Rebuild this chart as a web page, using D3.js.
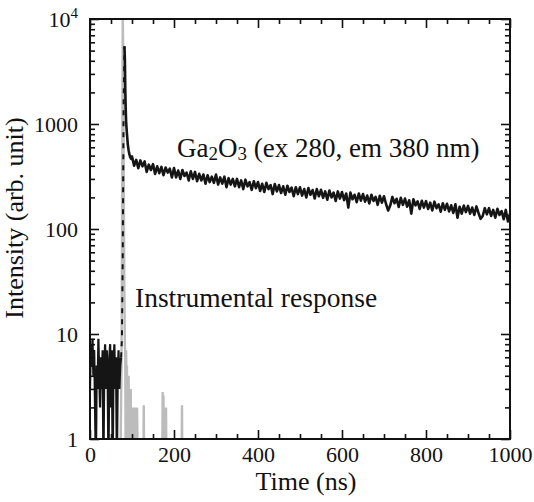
<!DOCTYPE html>
<html>
<head>
<meta charset="utf-8">
<script src="https://cdn.jsdelivr.net/npm/d3@7"></script>
<style>
body { margin: 0; background: #fff; }
text { font-family: "Liberation Serif", "Times New Roman", serif; fill: #111; white-space: pre; }
</style>
</head>
<body>
<svg id="chart" width="534" height="502"></svg>
<script>
// Ga2O3 decay trace (black), counts
const baseTime = d3.range(0, 75, 2);
const baseCounts = [3,8,5,9,4,7,2,0,5,3, 9,4,2,6,3,7,0,5,8,3,
                    7,4,0,6,8,2,7,0,5,8, 3,6,0,4,7,3,5,6];
const riseTime = [76, 78, 80, 82, 83];
const riseCounts = [9, 60, 1500, 5500, 4200];
const fastTime = [84, 85, 86, 88, 90, 92, 94, 96, 98];
const fastCounts = [2100, 1400, 1050, 800, 640, 560, 510, 480, 465];
const tailTime = d3.range(100, 1001, 5);
const tailCounts = [
  490,400,455,380,450,395,440,350,410,365,
  415,335,395,340,390,325,385,345,375,310,
  380,310,360,300,365,320,345,290,355,300,
  350,285,335,290,330,270,325,280,315,275,
  330,265,310,270,315,250,305,265,300,255,
  300,250,290,240,295,255,280,235,285,245,
  280,230,270,225,275,240,262,215,268,228,
  262,220,255,212,258,225,248,205,250,215,
  250,208,240,200,245,212,235,195,240,205,
  236,198,228,190,232,200,222,185,228,195,
  225,188,218,160,222,192,212,180,218,186,
  215,182,208,175,212,185,202,170,207,178,
  205,172,150,168,202,176,194,162,198,170,
  195,163,188,140,192,168,183,155,186,160,
  184,155,178,150,182,158,172,146,176,152,
  174,147,168,142,172,128,163,140,167,145,
  166,140,160,136,164,142,125,133,158,138,
  158,133,152,128,156,136,148,124,152,118,
  140];

// instrumental response (gray)
const irfTime = [70,72,74,75,76,77,78,79,80,81, 82,83,84,85,86,87,88,89,90,91,
                 92,93,94,95,96,97,98,100,102,104, 106,108,110,112,114,116,127,128,129,130,
                 172,173,174,175,176,180,181,182,218,219, 220,230];
const irfCounts = [0,0,2,6,40,900,10000,5000,800,90, 20,8,6,0,7,3,5,0,3,2,
                   4,0,3,0,2,3,0,2,0,2, 0,2,0,2,0,0,0,2.1,0,0,
                   0,2.8,2.2,2.6,0,0,2,0,0,2.1, 0,0];

const xMajor = [0, 200, 400, 600, 800, 1000];
const yMajor = [1, 10, 100, 1000, 10000];

const pL = 90, pR = 510, pT = 19, pB = 439;
const x = d3.scaleLinear().domain([0, 1000]).range([pL, pR]);
const y = d3.scaleLog().domain([1, 10000]).range([pB, pT]);

const svg = d3.select("#chart");

const zip = (ts, cs) => ts.map((t, i) => ({t: t, c: cs[i]}));
const black = zip(baseTime, baseCounts)
  .concat(zip(riseTime, riseCounts), zip(fastTime, fastCounts), zip(tailTime, tailCounts));
const irf = zip(irfTime, irfCounts);

// zero counts fall below the log axis and get clipped
const line = d3.line()
  .x(d => x(d.t))
  .y(d => y(Math.max(d.c, 0.5)));

svg.append("clipPath").attr("id", "plot")
  .append("rect")
    .attr("x", pL).attr("y", pT)
    .attr("width", pR - pL).attr("height", pB - pT);

const g = svg.append("g").attr("clip-path", "url(#plot)");

g.append("path")
  .attr("d", line(irf))
  .attr("fill", "none")
  .attr("stroke", "#bcbcbc")
  .attr("stroke-width", 2.4);

g.append("path")
  .attr("d", line(black.filter(d => d.t <= 74)))
  .attr("fill", "none")
  .attr("stroke", "#151515")
  .attr("stroke-width", 2.2);

g.append("path")
  .attr("d", line(black.filter(d => d.t >= 74 && d.t <= 82)))
  .attr("fill", "none")
  .attr("stroke", "#151515")
  .attr("stroke-width", 2)
  .attr("stroke-dasharray", "5,6");

g.append("path")
  .attr("d", line(black.filter(d => d.t >= 82)))
  .attr("fill", "none")
  .attr("stroke", "#151515")
  .attr("stroke-width", 2.6)
  .attr("stroke-linejoin", "round");

// axes, ticks pointing inward on all four sides
const xMinor = d3.range(0, 1001, 50).filter(v => v % 200 !== 0);
const yMinor = y.ticks().filter(v => yMajor.indexOf(v) < 0);

function style(sel) {
  sel.select(".domain").remove();
  sel.selectAll("line").attr("stroke", "#111").attr("stroke-width", 1.6);
  sel.selectAll("text").style("font-size", "22px").attr("fill", "#111");
}

svg.append("g").attr("transform", `translate(0,${pB})`)
  .call(d3.axisBottom(x).tickValues(xMajor).tickSize(-9).tickPadding(7).tickFormat(d3.format("d")))
  .call(style);
svg.append("g").attr("transform", `translate(0,${pB})`)
  .call(d3.axisBottom(x).tickValues(xMinor).tickSize(-5).tickFormat(""))
  .call(style);
svg.append("g").attr("transform", `translate(0,${pT})`)
  .call(d3.axisTop(x).tickValues(xMajor).tickSize(-9).tickFormat(""))
  .call(style);
svg.append("g").attr("transform", `translate(0,${pT})`)
  .call(d3.axisTop(x).tickValues(xMinor).tickSize(-5).tickFormat(""))
  .call(style);

const yAxis = svg.append("g").attr("transform", `translate(${pL},0)`)
  .call(d3.axisLeft(y).tickValues(yMajor).tickSize(-9).tickPadding(12)
    .tickFormat(d => d === 10000 ? "" : d3.format("d")(d)))
  .call(style);
svg.append("g").attr("transform", `translate(${pL},0)`)
  .call(d3.axisLeft(y).tickValues(yMinor).tickSize(-5).tickFormat(""))
  .call(style);
svg.append("g").attr("transform", `translate(${pR},0)`)
  .call(d3.axisRight(y).tickValues(yMajor).tickSize(-9).tickFormat(""))
  .call(style);
svg.append("g").attr("transform", `translate(${pR},0)`)
  .call(d3.axisRight(y).tickValues(yMinor).tickSize(-5).tickFormat(""))
  .call(style);

// 10^4 label with superscript
const topLabel = yAxis.selectAll(".tick").filter(d => d === 10000).select("text");
topLabel.append("tspan").text("10");
topLabel.append("tspan").attr("dy", "-0.55em").style("font-size", "15px").text("4");

svg.append("rect")
  .attr("x", pL).attr("y", pT)
  .attr("width", pR - pL).attr("height", pB - pT)
  .attr("fill", "none")
  .attr("stroke", "#111")
  .attr("stroke-width", 2);

// labels
svg.append("text")
  .attr("x", (pL + pR) / 2 + 6).attr("y", 490)
  .attr("text-anchor", "middle")
  .style("font-size", "26px")
  .text("Time (ns)");

svg.append("text")
  .attr("transform", "translate(23,218) rotate(-90)")
  .attr("text-anchor", "middle")
  .style("font-size", "26px")
  .text("Intensity (arb. unit)");

const ga = svg.append("text")
  .attr("x", 177).attr("y", 157)
  .style("font-size", "27px");
ga.append("tspan").text("Ga");
ga.append("tspan").attr("dy", 3).style("font-size", "19px").text("2");
ga.append("tspan").attr("dy", -3).text("O");
ga.append("tspan").attr("dy", 3).style("font-size", "19px").text("3");
ga.append("tspan").attr("dy", -3).text(" (ex 280, em 380 nm)");

svg.append("text")
  .attr("x", 135).attr("y", 307)
  .style("font-size", "27.5px")
  .text("Instrumental response");
</script>
</body>
</html>
